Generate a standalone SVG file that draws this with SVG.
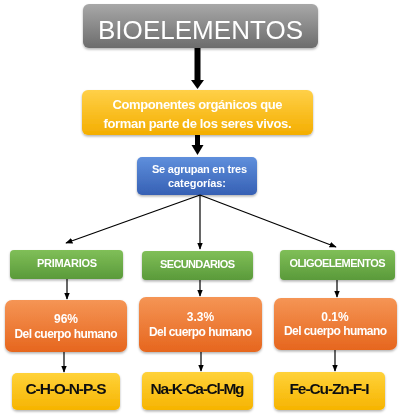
<svg xmlns="http://www.w3.org/2000/svg" width="400" height="416" viewBox="0 0 400 416">
<defs>
<linearGradient id="gGray" x1="0" y1="0" x2="0" y2="1"><stop offset="0" stop-color="#a8a8a8"/><stop offset="1" stop-color="#6c6c6c"/></linearGradient>
<linearGradient id="gYel" x1="0" y1="0" x2="0" y2="1"><stop offset="0" stop-color="#ffd048"/><stop offset="1" stop-color="#f4ae00"/></linearGradient>
<linearGradient id="gBlue" x1="0" y1="0" x2="0" y2="1"><stop offset="0" stop-color="#5f8fdc"/><stop offset="1" stop-color="#3660b4"/></linearGradient>
<linearGradient id="gGreen" x1="0" y1="0" x2="0" y2="1"><stop offset="0" stop-color="#80bf58"/><stop offset="1" stop-color="#5a9a3a"/></linearGradient>
<linearGradient id="gOr" x1="0" y1="0" x2="0" y2="1"><stop offset="0" stop-color="#f59555"/><stop offset="1" stop-color="#e6661e"/></linearGradient>
<linearGradient id="gYel2" x1="0" y1="0" x2="0" y2="1"><stop offset="0" stop-color="#ffd23a"/><stop offset="1" stop-color="#f6b400"/></linearGradient>
<filter id="sh" x="-10%" y="-10%" width="120%" height="130%"><feDropShadow dx="0" dy="1.5" stdDeviation="1.2" flood-color="#000" flood-opacity="0.3"/></filter>
<marker id="ah" viewBox="0 0 10 10" refX="9" refY="5" markerWidth="6" markerHeight="6" orient="auto"><path d="M0,1 L10,5 L0,9 Z" fill="#000"/></marker>
</defs>
<style>
.w{fill:#fff;font-family:"Liberation Sans",Arial,sans-serif;font-weight:bold;text-anchor:middle}
.k{fill:#111;font-family:"Liberation Sans",Arial,sans-serif;font-weight:bold;text-anchor:middle}
.thin{stroke:#000;stroke-width:1.2;fill:none;marker-end:url(#ah)}
</style>
<g id="n-bio" filter="url(#sh)"><rect x="83" y="4" width="235" height="44" rx="6" fill="url(#gGray)"/><text x="200.5" y="39" font-family="Liberation Sans,Arial,sans-serif" font-size="26" fill="#fff" text-anchor="middle" textLength="205">BIOELEMENTOS</text></g>
<g id="n-comp" filter="url(#sh)"><rect x="82" y="90" width="231" height="45" rx="6" fill="url(#gYel)"/><text class="w" x="197.5" y="109" font-size="13" textLength="170">Componentes orgánicos que</text><text class="w" x="197.5" y="128" font-size="13" textLength="188">forman parte de los seres vivos.</text></g>
<g id="n-agr" filter="url(#sh)"><rect x="137" y="157" width="120" height="38" rx="5" fill="url(#gBlue)"/><text class="w" x="199.5" y="173" font-size="11" textLength="95">Se agrupan en tres</text><text class="w" x="197" y="187" font-size="11" textLength="58">categorías:</text></g>
<g id="n-prim" filter="url(#sh)"><rect x="10" y="250" width="113" height="29" rx="4" fill="url(#gGreen)"/><text class="w" x="67" y="266.5" font-size="11" textLength="60">PRIMARIOS</text></g>
<g id="n-sec" filter="url(#sh)"><rect x="142" y="251" width="111" height="29" rx="4" fill="url(#gGreen)"/><text class="w" x="197.5" y="267.5" font-size="11" textLength="75">SECUNDARIOS</text></g>
<g id="n-oli" filter="url(#sh)"><rect x="280" y="250" width="115" height="30" rx="4" fill="url(#gGreen)"/><text class="w" x="337.5" y="266.5" font-size="11" textLength="96">OLIGOELEMENTOS</text></g>
<g id="n-p96" filter="url(#sh)"><rect x="5" y="300" width="122" height="52" rx="7" fill="url(#gOr)"/><text class="w" x="66" y="323" font-size="12">96%</text><text class="w" x="66" y="338" font-size="12" textLength="103">Del cuerpo humano</text></g>
<g id="n-p33" filter="url(#sh)"><rect x="139" y="297" width="123" height="55" rx="7" fill="url(#gOr)"/><text class="w" x="200.5" y="321" font-size="12">3.3%</text><text class="w" x="200.5" y="336" font-size="12" textLength="103">Del cuerpo humano</text></g>
<g id="n-p01" filter="url(#sh)"><rect x="274" y="298" width="123" height="52" rx="7" fill="url(#gOr)"/><text class="w" x="335" y="321" font-size="12">0.1%</text><text class="w" x="335.5" y="335" font-size="12" textLength="103">Del cuerpo humano</text></g>
<g id="n-chon" filter="url(#sh)"><rect x="12" y="373" width="108" height="37" rx="5" fill="url(#gYel2)"/><text class="k" x="66" y="393.5" font-size="15.5" textLength="81">C-H-O-N-P-S</text></g>
<g id="n-nak" filter="url(#sh)"><rect x="142" y="372" width="111" height="38" rx="5" fill="url(#gYel2)"/><text class="k" x="197.5" y="393.5" font-size="15.5" textLength="94">Na-K-Ca-Cl-Mg</text></g>
<g id="n-fecu" filter="url(#sh)"><rect x="274" y="372" width="111" height="38" rx="5" fill="url(#gYel2)"/><text class="k" x="329.5" y="393.5" font-size="15.5" textLength="80">Fe-Cu-Zn-F-I</text></g>
<g id="connectors">
<rect x="194.5" y="48" width="6" height="33" fill="#000"/><polygon points="191,80 204,80 197.5,89" fill="#000"/>
<rect x="195" y="135" width="5" height="11" fill="#000"/><polygon points="191.5,145 203.5,145 197.5,155" fill="#000"/>
<line class="thin" x1="200" y1="195" x2="66" y2="243"/>
<line class="thin" x1="200" y1="195" x2="200" y2="249"/>
<line class="thin" x1="200" y1="195" x2="336" y2="247"/>
<line class="thin" x1="67" y1="279" x2="67" y2="299"/>
<line class="thin" x1="200" y1="280" x2="200" y2="296"/>
<line class="thin" x1="337" y1="280" x2="337" y2="297"/>
<line class="thin" x1="64" y1="352" x2="64" y2="372"/>
<line class="thin" x1="201" y1="352" x2="201" y2="371"/>
<line class="thin" x1="335" y1="350" x2="335" y2="371"/>
</g>
</svg>
